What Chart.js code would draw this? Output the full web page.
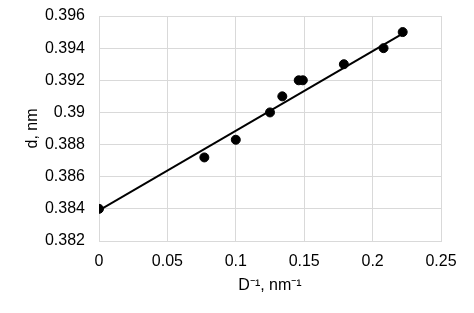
<!DOCTYPE html>
<html>
<head>
<meta charset="utf-8">
<script src="https://cdn.jsdelivr.net/npm/chart.js@4"></script>
<style>
  body { margin: 0; background: #fff; }
  #wrap { width: 474px; height: 313px; }
</style>
</head>
<body>
<div id="wrap"><canvas id="chart" width="474" height="313"></canvas></div>
<script>
// measured points (D^-1 in nm^-1, d in nm)
const invSize = [0, 0.077, 0.1, 0.125, 0.134, 0.146, 0.149, 0.179, 0.208, 0.222];
const spacing = [0.384, 0.3872, 0.3883, 0.390, 0.391, 0.392, 0.392, 0.393, 0.394, 0.395];

// trend line ends
const trendX = [0, 0.222];
const trendY = [0.3839, 0.3949];

const FONT = 'Liberation Sans, Arial, sans-serif';
const GRID = '#d9d9d9';

const points = invSize.map((x, i) => ({ x, y: spacing[i] }));
const trend = trendX.map((x, i) => ({ x, y: trendY[i] }));

new Chart(document.getElementById('chart'), {
  type: 'scatter',
  data: {
    datasets: [
      {
        label: 'd',
        data: points,
        backgroundColor: '#000',
        borderColor: '#000',
        pointRadius: 4.5,
        pointHoverRadius: 4.5
      },
      {
        label: 'trend',
        type: 'line',
        data: trend,
        borderColor: '#000',
        borderWidth: 2,
        pointRadius: 0,
        fill: false
      }
    ]
  },
  options: {
    responsive: false,
    animation: false,
    layout: { padding: { left: 0, top: 16, right: 33, bottom: 0 } },
    plugins: {
      legend: { display: false },
      tooltip: { enabled: false }
    },
    scales: {
      x: {
        type: 'linear',
        min: 0,
        max: 0.25,
        ticks: {
          stepSize: 0.05,
          padding: 11,
          color: '#000',
          font: { family: FONT, size: 16 },
          callback: v => String(+v.toFixed(2))
        },
        grid: { color: GRID, lineWidth: 1, drawTicks: false },
        border: { color: GRID },
        title: {
          display: true,
          text: 'D\u207B\u00B9, nm\u207B\u00B9',
          color: '#000',
          font: { family: FONT, size: 16 },
          padding: { top: 0, bottom: 18 }
        },
        afterFit: scale => {
          scale.height = 72;
          scale.paddingLeft = 0;
          scale.paddingRight = 0;
        }
      },
      y: {
        min: 0.382,
        max: 0.396,
        ticks: {
          stepSize: 0.002,
          padding: 14,
          color: '#000',
          font: { family: FONT, size: 16 },
          callback: v => String(+v.toFixed(3))
        },
        grid: { color: GRID, lineWidth: 1, drawTicks: false },
        border: { color: GRID },
        title: {
          display: true,
          text: 'd, nm',
          color: '#000',
          font: { family: FONT, size: 16 },
          padding: { top: 23, bottom: 0 }
        },
        afterFit: scale => {
          scale.width = 99;
          scale.paddingTop = 0;
          scale.paddingBottom = 0;
        }
      }
    }
  }
});
</script>
</body>
</html>
